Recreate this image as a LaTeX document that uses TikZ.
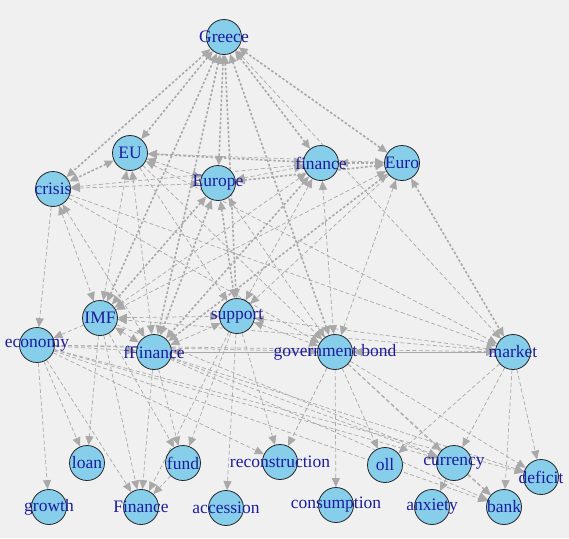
\documentclass[tikz,border=0pt]{standalone}
\usepackage{fontspec}
\setmainfont{Liberation Serif}
\usetikzlibrary{arrows.meta}

\definecolor{skyfill}{HTML}{87CEEB}
\definecolor{wordblue}{HTML}{1C1C9C}
\definecolor{edgegray}{HTML}{A9A9A9}
\definecolor{bggray}{HTML}{F0F0F0}

\pgfdeclarelayer{edgelayer}
\pgfsetlayers{edgelayer,main}

\tikzset{
    vert/.style={circle, draw=black!85, line width=0.8pt, fill=skyfill,
        minimum size=35pt, inner sep=0pt,
        label={[text=wordblue, font=\fontsize{17.5}{19}\selectfont]center:#1}},
    light/.style={edgegray, line width=0.7pt, dash pattern=on 4pt off 2.5pt,
        -{Triangle[length=9pt, width=8pt]}},
    heavy/.style={edgegray, line width=1.6pt, dash pattern=on 2.5pt off 2pt,
        -{Triangle[length=9pt, width=8pt]}},
    plain/.style={edgegray, line width=0.9pt, -{Triangle[length=9pt, width=8pt]}},
    both/.style={{Triangle[length=9pt, width=8pt]}-{Triangle[length=9pt, width=8pt]}}
}

\begin{document}
\begin{tikzpicture}[x=1pt, y=-1pt]
    \useasboundingbox (0, 0) rectangle (569, 538);

    % top words
    \node[vert=Greece] (greece) at (224, 37) {};
    \node[vert=EU] (eu) at (130, 153) {};
    \node[vert=crisis] (crisis) at (53, 189) {};
    \node[vert=Europe] (europe) at (218, 183) {};
    \node[vert=finance] (finance) at (321, 163) {};
    \node[vert=Euro] (euro) at (402, 163) {};

    % middle words
    \node[vert=IMF] (imf) at (100, 318) {};
    \node[vert=support] (support) at (237, 316) {};
    \node[vert=economy] (economy) at (37, 345) {};
    \node[vert=fFinance] (ffinance) at (154, 352) {};
    \node[vert=government bond] (govbond) at (335, 352) {};
    \node[vert=market] (market) at (513, 352) {};

    % bottom words
    \node[vert=loan] (loan) at (87, 463) {};
    \node[vert=fund] (fund) at (183, 463) {};
    \node[vert=reconstruction] (recon) at (280, 462) {};
    \node[vert=oll] (oll) at (385, 465) {};
    \node[vert=currency] (currency) at (454, 463) {};
    \node[vert=deficit] (deficit) at (541, 477) {};
    \node[vert=growth] (growth) at (49, 507) {};
    \node[vert=Finance] (bigfinance) at (141, 507) {};
    \node[vert=accession] (accession) at (226, 508) {};
    \node[vert=consumption] (consumption) at (336, 505) {};
    \node[vert=anxiety] (anxiety) at (432, 507) {};
    \node[vert=bank] (bank) at (504, 507) {};

    \begin{pgfonlayer}{edgelayer}
        \fill[bggray] (0, 0) rectangle (569, 538);

        % Greece and the top words
        \foreach \b in {crisis, eu, europe, finance, euro, imf, ffinance, support, govbond}
            \draw[heavy, both] (greece) -- (\b);
        \draw[light, both] (greece) -- (market);

        % among the top words
        \draw[heavy, both] (eu) -- (crisis);
        \draw[heavy, both] (eu) -- (finance);
        \draw[light, both] (eu) -- (europe);
        \draw[light, both] (eu) -- (euro);
        \draw[light, both] (crisis) -- (europe);
        \draw[light, both] (crisis) -- (finance);
        \draw[light, both] (europe) -- (finance);
        \draw[heavy, both] (europe) -- (euro);
        \draw[heavy, both] (finance) -- (euro);

        % top words down to the middle
        \foreach \a/\b in {crisis/economy, crisis/govbond, crisis/market, eu/support,
                           eu/govbond, euro/support}
            \draw[light] (\a) -- (\b);
        \foreach \a/\b in {crisis/imf, crisis/ffinance, eu/imf, eu/ffinance, eu/market,
                           europe/govbond, finance/support, finance/govbond, finance/imf,
                           euro/imf, euro/govbond}
            \draw[light, both] (\a) -- (\b);
        \foreach \a/\b in {europe/imf, europe/ffinance, europe/support, finance/ffinance,
                           euro/ffinance, euro/market}
            \draw[heavy, both] (\a) -- (\b);

        % among the middle words
        \draw[light, both] (imf) -- (support);
        \draw[light, both] (imf) -- (ffinance);
        \draw[light] (imf) -- (economy);
        \draw[light, both] (support) -- (ffinance);
        \draw[light, both] (support) -- (govbond);
        \draw[light, both] (support) -- (market);
        \draw[plain, both] (ffinance) -- (govbond);
        \draw[plain, both] (govbond) -- (market);
        \draw[light] (economy) -- (ffinance);
        \draw[light] (economy) -- (govbond);
        \draw[light] (economy) -- (market);
        \draw[light] (market) -- (imf);
        \draw[light] (market) -- (ffinance);

        % middle words down to the bottom
        \foreach \a/\b in {economy/growth, economy/loan, economy/bigfinance,
                           economy/recon, economy/currency, economy/bank, economy/deficit,
                           imf/loan, imf/bigfinance, imf/fund, imf/currency,
                           ffinance/bigfinance, ffinance/fund, ffinance/currency,
                           ffinance/bank, ffinance/deficit,
                           support/accession, support/fund, support/bigfinance,
                           support/recon,
                           govbond/recon, govbond/consumption, govbond/oll,
                           govbond/currency, govbond/bank, govbond/deficit,
                           market/oll, market/currency, market/bank, market/deficit,
                           currency/anxiety, currency/bank, fund/bigfinance}
            \draw[light] (\a) -- (\b);
    \end{pgfonlayer}
\end{tikzpicture}
\end{document}
